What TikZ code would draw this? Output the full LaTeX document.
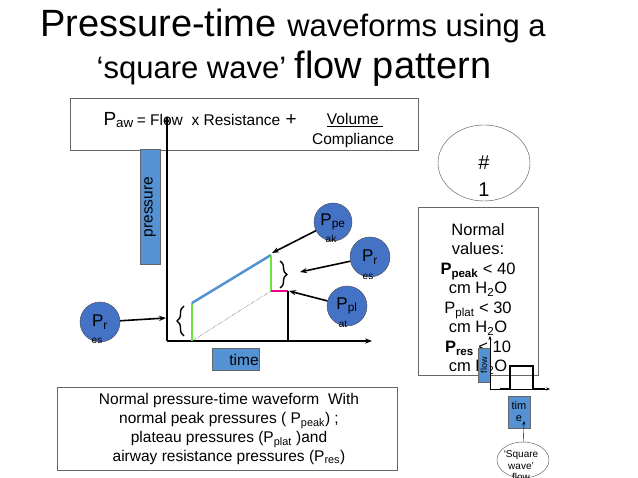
\documentclass[tikz,border=0pt]{standalone}
\usepackage{fontspec}
\setmainfont{Liberation Sans}
\usetikzlibrary{arrows.meta,positioning,decorations.pathreplacing,shapes.geometric}
\definecolor{lblue}{RGB}{84,146,212}
\definecolor{cblue}{RGB}{68,114,196}
\definecolor{pgreen}{RGB}{102,230,60}
\tikzset{
  bluebox/.style={draw=black!60, fill=lblue, inner sep=0pt},
  pcirc/.style={circle, draw=black!70, fill=cblue, minimum size=40pt, inner sep=0pt},
  lbl/.style={-{Stealth[length=7pt]}, line width=1.6pt}
}
\begin{document}
\begin{tikzpicture}[x=1pt,y=-1pt]
        \useasboundingbox (0,0) rectangle (638,478);
        % Title
        \node (title1) at (293,26) {\fontsize{38}{40}\selectfont Pressure-time {\fontsize{31}{34}\selectfont waveforms using a}};
        \node (title2) at (294,69) {\fontsize{31}{34}\selectfont ‘square wave’ {\fontsize{38}{40}\selectfont flow pattern}};
        % Equation box
        \node[draw=black!60, minimum width=348pt, minimum height=52pt] (eqbox) at (244,124) {};
        \node[anchor=west] (eq) at (100,120) {\fontsize{19}{22}\selectfont P\textsubscript{aw}\,{\fontsize{15.5}{18}\selectfont= Flow \ x Resistance} +};
        \node (vol) at (355,120) {\fontsize{15.5}{18}\selectfont\underline{Volume\ }};
        \node (comp) at (353,140) {\fontsize{15.5}{18}\selectfont Compliance};
        % Axes
        \coordinate (origin) at (167,341);
        \coordinate (ytop) at (167,116);
        \coordinate (xend) at (372,341);
        \draw[-{Stealth[length=7pt]}, line width=1.8pt] (origin) -- (ytop);
        \draw[-{Stealth[length=7pt]}, line width=1.8pt] (origin) -- (xend);
        \node[bluebox, minimum width=20pt, minimum height=115pt] (pbox) at (150,207) {};
        \node[rotate=90] (plab) at (pbox) {\fontsize{15.5}{18}\selectfont pressure};
        \node[bluebox, minimum width=47pt, minimum height=22pt] (tbox) at (236,359) {};
        \node (tlab) at (244,360) {\fontsize{15.5}{18}\selectfont time};
        % Waveform
        \coordinate (a) at (192,341);
        \coordinate (b) at (192,303);
        \coordinate (c) at (271,255);
        \coordinate (d) at (271,291);
        \coordinate (e) at (288,291);
        \coordinate (f) at (288,341);
        \draw[pgreen, line width=2pt] (a) -- (b);
        \draw[lblue, line width=2.5pt] (b) -- (c);
        \draw[pgreen, line width=2pt] (c) -- (d);
        \draw[magenta, line width=2pt] (d) -- (e);
        \draw[line width=1.6pt] (e) -- (f);
        \draw[densely dotted, thin] (a) -- (d);
        \draw[decorate, decoration={brace, amplitude=7pt}, line width=1.4pt] (184,336) -- (184,306);
        \draw[decorate, decoration={brace, amplitude=7pt}, line width=1.4pt] (280,261) -- (280,288);
        % Labelled circles
        \node[pcirc] (presl) at (100,322) {\fontsize{17}{19}\selectfont P\textsubscript{r}};
        \node (presls) at (97,341) {\fontsize{10}{11}\selectfont es};
        \node[pcirc, minimum size=38pt] (ppeak) at (333,222) {\fontsize{17}{19}\selectfont P\textsubscript{pe}};
        \node (ppeaks) at (331,239) {\fontsize{10}{11}\selectfont ak};
        \node[pcirc] (presr) at (370,257) {\fontsize{17}{19}\selectfont P\textsubscript{r}};
        \node (presrs) at (368,277) {\fontsize{10}{11}\selectfont es};
        \node[pcirc] (pplat) at (347,306) {\fontsize{17}{19}\selectfont P\textsubscript{pl}};
        \node (pplats) at (343,324) {\fontsize{10}{11}\selectfont at};
        \coordinate (tpeak) at (272,253);
        \coordinate (tres) at (300,272);
        \coordinate (tplat) at (289,291);
        \coordinate (tresl) at (166,318);
        \draw[lbl] (ppeak) -- (tpeak);
        \draw[lbl] (presr) -- (tres);
        \draw[lbl] (pplat) -- (tplat);
        \draw[lbl] (presl) -- (tresl);
        % Right side
        \node[ellipse, draw=black!70, minimum width=92pt, minimum height=76pt] (num) at (484,163) {};
        \node[align=center, font=\fontsize{20}{27}\selectfont] (numt) at (484,176) {\#\\1};
        \node[draw=black!60, minimum width=120pt, minimum height=168pt] (nbox) at (478,291) {};
        \node[align=center, font=\fontsize{16.5}{19.5}\selectfont] (ntext) at (478,299) {Normal\\ values:\\
          \textbf{P\textsubscript{peak}} {<} 40\\ cm H\textsubscript{2}O\\ P\textsubscript{plat} {<} 30\\ cm H\textsubscript{2}O\\ \textbf{P\textsubscript{res}} {<} 10\\ cm H\textsubscript{2}O};
        \node[bluebox, minimum width=12pt, minimum height=34pt] (fbox) at (484,365) {};
        \node[rotate=90] (flab) at (fbox) {\fontsize{9}{10}\selectfont flow};
        \coordinate (so) at (490,389);
        \coordinate (sy) at (490,336);
        \coordinate (sx) at (550,389);
        \draw[-{Stealth[length=4pt]}, thin] (so) -- (sy);
        \draw[-{Stealth[length=4pt]}, thin] (so) -- (sx);
        \draw[line width=1.5pt] (500,389) -- (510,389) -- (510,366) -- (533,366) -- (533,389) -- (545,389);
        \node[bluebox, minimum width=22pt, minimum height=32pt] (tmbox) at (519,412) {};
        \node[align=center, font=\fontsize{11}{12}\selectfont] (tmlab) at (519,412) {tim\\e};
        \node[ellipse, draw=black!70, minimum width=52pt, minimum height=36pt] (sq) at (523,460) {};
        \node[align=center, font=\fontsize{10}{11.5}\selectfont] (sqt) at (521,466) {‘Square\\ wave’\\ flow};
        \draw[-{Stealth[length=4pt]}, thin] (sq) -- (524,421);
        % Bottom caption
        \node[draw=black!60, minimum width=340pt, minimum height=83pt] (cap) at (227,429) {};
        \node[align=center, font=\fontsize{15.5}{19}\selectfont] (capt) at (229,429) {Normal pressure-time waveform\ \ With\\
          normal peak pressures ( P\textsubscript{peak}) ;\\ plateau pressures (P\textsubscript{plat} )and\\ airway resistance pressures (P\textsubscript{res})};
\end{tikzpicture}
\end{document}
